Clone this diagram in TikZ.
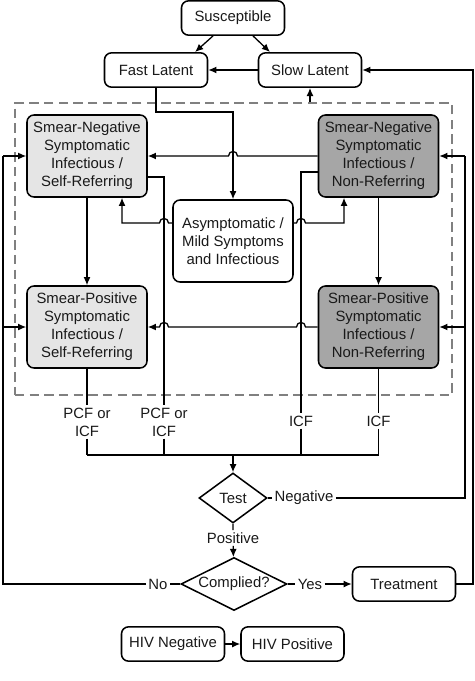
\documentclass[tikz,border=0pt]{standalone}
\usepackage{fontspec}
\setmainfont{Liberation Sans}
\usetikzlibrary{arrows.meta,shapes.geometric}

% little bridge where a wire crosses another one
\newcommand{\hopl}[2]{-- ({#1+4.5},#2) .. controls ({#1+4.5},{#2-6}) and ({#1-4.5},{#2-6}) .. ({#1-4.5},#2)}
\newcommand{\hopr}[2]{-- ({#1-4.5},#2) .. controls ({#1-4.5},{#2-6}) and ({#1+4.5},{#2-6}) .. ({#1+4.5},#2)}

\begin{document}
\begin{tikzpicture}[x=0.03cm,y=-0.03cm,>={Latex[length=7pt,width=6pt]},line width=1.1pt]
	\tikzstyle{every node}=[font=\fontsize{12.7}{15.4}\selectfont, text=black!90]
	\tikzstyle{state}=[draw, line width=1.3pt, rounded corners=6pt, minimum width=3.09cm, minimum height=1.03cm, inner sep=2pt]
	\tikzstyle{infect}=[state, align=center, minimum width=3.6cm, minimum height=2.46cm]
	\tikzstyle{selfref}=[infect, fill=gray!20]
	\tikzstyle{nonref}=[infect, fill=gray!70]
	\tikzstyle{choice}=[draw, line width=1.3pt, diamond, inner sep=1pt]
	\tikzstyle{lbl}=[inner sep=1.5pt, align=center]
	\tikzstyle{group}=[draw=gray, line width=1pt, dash pattern=on 8pt off 4.5pt, minimum width=13.11cm, minimum height=8.76cm]

	\useasboundingbox (0,0) rectangle (474,681);

	% latent states
	\node [state] (sus) at (233,18) {Susceptible};
	\node [state] (fast) at (156,70) {Fast Latent};
	\node [state] (slow) at (310,70) {Slow Latent};

	% infectious states (dashed group)
	\node [group] (grp) at (233.5,249) {};
	\node [selfref] (sns) at (87,156) {Smear-Negative\\Symptomatic\\Infectious /\\Self-Referring};
	\node [nonref] (snn) at (378.5,156) {Smear-Negative\\Symptomatic\\Infectious /\\Non-Referring};
	\node [infect] (asym) at (233,241) {Asymptomatic /\\Mild Symptoms\\and Infectious};
	\node [selfref] (sps) at (87,327) {Smear-Positive\\Symptomatic\\Infectious /\\Self-Referring};
	\node [nonref] (spn) at (378.5,327) {Smear-Positive\\Symptomatic\\Infectious /\\Non-Referring};

	% case finding labels
	\node [lbl] (pcf1) at (87,422) {PCF or\\ICF};
	\node [lbl] (pcf2) at (164,422) {PCF or\\ICF};
	\node [lbl] (icf1) at (301,421) {ICF};
	\node [lbl] (icf2) at (378.5,421) {ICF};
	\coordinate (bus) at (233,455);

	% testing and treatment
	\node [choice, minimum width=2.04cm, minimum height=1.5cm] (test) at (233,498) {Test};
	\node [lbl] (neg) at (304,498) {Negative};
	\node [lbl] (pos) at (233,538) {Positive};
	\node [choice, aspect=2, minimum width=3.06cm, minimum height=1.53cm] (comp) at (234,584) {Complied?};
	\node [lbl] (no) at (158,584) {No};
	\node [lbl] (yes) at (310,584) {Yes};
	\node [state] (treat) at (404,584) {Treatment};

	% HIV
	\node [state] (hivn) at (173,644) {HIV Negative};
	\node [state] (hivp) at (292.5,644) {HIV Positive};

	\coordinate (lt) at (3,156);
	\coordinate (rt) at (465,156);

	\draw [->] ([xshift=-0.6cm]sus.south) -- ([xshift=1.17cm]fast.north);
	\draw [->] ([xshift=0.6cm]sus.south) -- ([xshift=-1.2cm]slow.north);
	\draw [->] (slow) -- (fast);
	\draw [->] (grp.north -| slow) -- (slow);
	\draw [->] (fast) |- (asym.north |- 0,112) -- (asym);

	\draw [->] (snn) \hopl{233}{156} -- (sns);
	\draw [->] (asym.west |- 0,223) \hopl{164}{223} -- (122,223) -- (sns.south -| 122,0);
	\draw [->] (asym.east |- 0,223) \hopr{301}{223} -- (344,223) -- (snn.south -| 344,0);
	\draw [->] (sns) -- (sps);
	\draw [->] (snn) -- (spn);
	\draw [->] (spn) \hopl{301}{327} \hopl{164}{327} -- (sps);

	\draw (sps) -- (pcf1) -- (pcf1 |- bus);
	\draw (sns.east |- 0,177) -- (164,177) -- (pcf2) -- (pcf2 |- bus);
	\draw (snn.west |- 0,172) -- (301,172) -- (icf1) -- (icf1 |- bus);
	\draw (spn) -- (icf2) -- (icf2 |- bus);
	\draw (pcf1 |- bus) -- (icf2 |- bus);
	\draw [->] (bus) -- (test);

	\draw (test) -- (neg) -- (neg -| rt) -- (rt);
	\draw [->] (rt) -- (snn);
	\draw [->] (spn -| rt) -- (spn);
	\draw [->] (test) -- (pos) -- (comp);
	\draw (comp) -- (no) -- (no -| lt) -- (lt);
	\draw [->] (lt) -- (sns);
	\draw [->] (sps -| lt) -- (sps);
	\draw [->] (comp) -- (yes) -- (treat);
	\draw [->] (treat) -- (treat -| 473,0) -- (slow -| 473,0) -- (slow);

	\draw [->] (hivn) -- (hivp);
\end{tikzpicture}
\end{document}
